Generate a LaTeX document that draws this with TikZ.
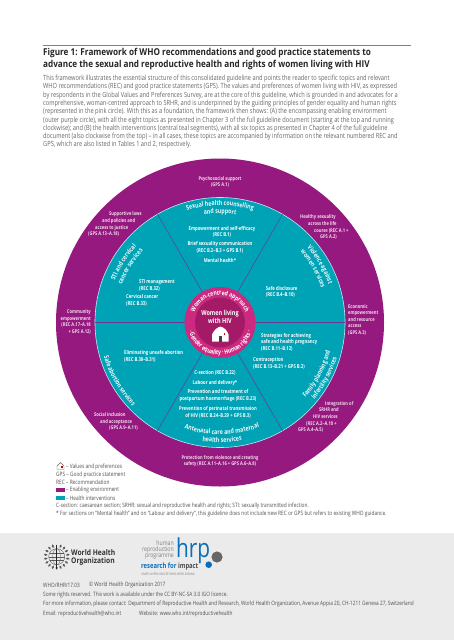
\documentclass[tikz,border=0pt]{standalone}
\usepackage{fontspec}
\usepackage{tikz}
\usetikzlibrary{positioning, decorations.text}
\setmainfont{Open Sans}
\newfontfamily\narrowfont[FakeStretch=0.86]{Open Sans}
\newfontfamily\labelfont[FakeStretch=0.80]{Open Sans}
\definecolor{ringpurple}{HTML}{96197F}
\definecolor{segteal}{HTML}{00A2B6}
\definecolor{corepink}{HTML}{CC2A80}
\definecolor{coredark}{HTML}{A51A67}
\definecolor{spoke}{HTML}{6A3A96}
\definecolor{footgrey}{HTML}{EBEBEB}
\definecolor{bodygrey}{HTML}{666666}
\definecolor{hrpblue}{HTML}{0A6EB8}
\newcommand{\curvefont}{\labelfont\bfseries\fontsize{6.6}{7}\selectfont\color{white!92!segteal}}
\newcommand{\corefont}{\labelfont\bfseries\fontsize{6.3}{7}\selectfont\color{white}}
\newcommand{\arctext}[4]{\path[decorate, decoration={text along path, text={|\curvefont|#4}, text align=center}]
  ([shift={(#2:#1)}]ctr) arc[start angle=#2, end angle=#3, radius=#1];}

\begin{document}
\begin{tikzpicture}[
  x=1pt, y=1pt,
  plab/.style={font=\labelfont\bfseries\fontsize{5.1}{6.6}\selectfont, text=white!85!ringpurple, inner sep=0pt, align=center},
  tlab/.style={font=\labelfont\bfseries\fontsize{5.3}{6.6}\selectfont, text=white, inner sep=0pt, align=center},
  lgd/.style={font=\labelfont\fontsize{6}{6}\selectfont, text=bodygrey!80!black, inner sep=0pt, anchor=west},
  foot/.style={font=\labelfont\fontsize{5.95}{6}\selectfont, text=bodygrey!80!black, inner sep=0pt, anchor=west},
]
  \useasboundingbox (0,0) rectangle (454,-640);
  \fill[white] (0,0) rectangle (454,-640);
  \coordinate (ctr) at (220,-322.5);

  % Heading
  \draw[gray, line width=1pt] (43,-45.5) -- (411,-45.5);
  \node[font=\narrowfont\bfseries\fontsize{9.5}{11.9}\selectfont, text=black!85, inner sep=0pt, anchor=north west, align=left] (title) at (43,-48.5)
    {Figure 1: Framework of WHO recommendations and good practice statements to\\
     advance the sexual and reproductive health and rights of women living with HIV};
  \node[font=\labelfont\fontsize{7.1}{8.28}\selectfont, text=bodygrey, inner sep=0pt, anchor=north west, align=left] (intro) at (43,-75)
    {This framework illustrates the essential structure of this consolidated guideline and points the reader to specific topics and relevant\\
     WHO recommendations (REC) and good practice statements (GPS). The values and preferences of women living with HIV, as expressed\\
     by respondents in the Global Values and Preferences Survey, are at the core of this guideline, which is grounded in and advocates for a\\
     comprehensive, woman-centred approach to SRHR, and is underpinned by the guiding principles of gender equality and human rights\\
     (represented in the pink circle). With this as a foundation, the framework then shows: (A) the encompassing enabling environment\\
     (outer purple circle), with all the eight topics as presented in Chapter 3 of the full guideline document (starting at the top and running\\
     clockwise); and (B) the health interventions (central teal segments), with all six topics as presented in Chapter 4 of the full guideline\\
     document (also clockwise from the top) – in all cases, these topics are accompanied by information on the relevant numbered REC and\\
     GPS, which are also listed in Tables 1 and 2, respectively.};

  % Rings and segments
  \fill[ringpurple] (ctr) circle[radius=164];
  \draw[segteal, fill=segteal, line width=0.1pt] (ctr) circle[radius=125];
  \draw[white!75!segteal, line width=0.6pt] (ctr) circle[radius=125];
  \foreach \a in {0,60,...,300} { \draw[spoke, line width=0.5pt] (ctr) -- ++(\a:125); }
  \fill[corepink] (ctr) circle[radius=35.5];
  \fill[coredark] (ctr) circle[radius=25];

  % Curved topic titles
  \arctext{117}{125}{55}{Sexual health counselling}
  \arctext{109}{125}{55}{and support}
  \arctext{115}{60}{0}{Violence against}
  \arctext{107}{60}{0}{women services}
  \arctext{114}{-60}{4}{Family planning and}
  \arctext{122}{-60}{4}{infertility services}
  \arctext{112}{236}{306}{Antenatal care and maternal}
  \arctext{120}{236}{306}{health services}
  \arctext{121}{180}{240}{Safe abortion services}
  \arctext{113}{178}{118}{STI and cervical}
  \arctext{105}{178}{118}{cancer services}

  % Core
  \path[decorate, decoration={text along path, text={|\corefont|Woman-centred approach}, text align=center}]
    ([shift={(175:27.5)}]ctr) arc[start angle=175, end angle=5, radius=27.5];
  \path[decorate, decoration={text along path, text={|\corefont|· Gender equality · Human rights ·}, text align=center}]
    ([shift={(180:32.5)}]ctr) arc[start angle=180, end angle=360, radius=32.5];
  \node[font=\labelfont\bfseries\fontsize{6.9}{8}\selectfont, text=white, inner sep=0pt, align=center] (women) at (220,-317) {Women living\\with HIV};
  % House in the core
  \fill[white] (212,-341.5) -- (212,-334.5) .. controls (214,-330) and (217,-327.5) .. (220.5,-326.5) .. controls (224,-327.5) and (227,-330) .. (228.5,-334.5) -- (228.5,-341.5) -- cycle;
  \fill[black!75] (219,-341.5) rectangle (222,-335.5);
  \fill[red!80!black] (223.5,-335) rectangle (225,-333);

  % Enabling environment
  \node[plab] (psysup) at (220,-181.8) {Psychosocial support\\(GPS A.1)};
  \node[plab, anchor=west, align=left] (healthy) at (300,-227.2) {Healthy sexuality\\\hspace*{8pt}across the life\\\hspace*{14pt}course (REC A.1 +\\\hspace*{20pt}GPS A.2)};
  \node[plab, anchor=west, align=left] (econ) at (348,-319.7) {Economic\\empowerment\\and resource\\access\\(GPS A.3)};
  \node[plab, anchor=west, align=left] (integ) at (298,-417)
    {\hspace*{27pt}Integration of\\\hspace*{21pt}SRHR and\\\hspace*{15pt}HIV services\\\hspace*{8pt}(REC A.2–A.10 +\\GPS A.4–A.5)};
  \node[plab] (protect) at (220,-461) {Protection from violence and creating\\safety (REC A.11–A.16 + GPS A.6–A.8)};
  \node[plab, anchor=west, align=left] (social) at (94,-421.7) {Social inclusion\\\hspace*{6pt}and acceptance\\\hspace*{15pt}(GPS A.9–A.11)};
  \node[plab, anchor=east, align=right] (comm) at (91,-322) {Community\\empowerment\\(REC A.17–A.18\\+ GPS A.12)};
  \node[plab, anchor=west, align=left] (suplaw) at (88,-224.3) {\hspace*{21pt}Supportive laws\\\hspace*{14pt}and policies and\\\hspace*{7pt}access to justice\\(GPS A.13–A.18)};

  % Health interventions
  \node[tlab] (empower) at (222,-231.8) {Empowerment and self-efficacy\\(REC B.1)};
  \node[tlab] (brief) at (220,-247.6) {Brief sexuality communication\\(REC B.2–B.3 + GPS B.1)};
  \node[tlab] (mental) at (220,-260.7) {Mental health*};
  \node[tlab, anchor=west, align=left] (stimg) at (139,-285.2) {STI management\\(REC B.32)};
  \node[tlab, anchor=west, align=left] (cervix) at (126,-300.5) {Cervical cancer\\(REC B.33)};
  \node[tlab, anchor=west, align=left] (disclose) at (265.7,-291.7) {Safe disclosure\\(REC B.4–B.10)};
  \node[tlab, anchor=west, align=left] (strat) at (261,-342) {Strategies for achieving\\safe and health pregnancy\\(REC B.11–B.12)};
  \node[tlab, anchor=west, align=left] (contra) at (253,-363.3) {Contraception\\(REC B.13–B.21 + GPS B.2)};
  \node[tlab, anchor=west, align=left] (unsafe) at (124,-356.3) {Eliminating unsafe abortion\\(REC B.30–B.31)};
  \node[tlab] (csec) at (215,-373.3) {C-section (REC B.22)};
  \node[tlab] (labour) at (215,-383.3) {Labour and delivery*};
  \node[tlab] (pph) at (218,-395.6) {Prevention and treatment of\\postpartum haemorrhage (REC B.23)};
  \node[tlab] (perinat) at (218,-412.5) {Prevention of perinatal transmission\\of HIV (REC B.24–B.29 + GPS B.3)};

  % Legend
  \draw[bodygrey, line width=0.4pt, fill=white] (57,-469.5) -- (57,-466) -- (60.5,-462.5) -- (64,-466) -- (64,-469.5) -- cycle;
  \fill[red!80!black] (61,-467.5) rectangle (62.5,-465.5);
  \node[lgd] (lvalues) at (66,-466.7) {– Values and preferences};
  \node[lgd] (lgps) at (56,-474.6) {GPS – Good practice statement};
  \node[lgd] (lrec) at (56,-482.4) {REC – Recommendation};
  \fill[ringpurple] (56,-488.3) rectangle (65,-492.3);
  \node[lgd] (lenv) at (66,-490.3) {– Enabling environment};
  \fill[segteal] (56,-496.3) rectangle (65,-500.3);
  \node[lgd] (lhealth) at (66,-498.3) {– Health interventions};
  \node[lgd] (labbr) at (56,-506) {C-section: caesarean section; SRHR: sexual and reproductive health and rights; STI: sexually transmitted infection.};
  \node[lgd] (lnote) at (56,-514) {* For sections on “Mental health” and on “Labour and delivery”, this guideline does not include new REC or GPS but refers to existing WHO guidance.};

  % Footer
  \fill[footgrey] (0,-533) rectangle (454,-640);

  % WHO emblem
  \foreach \a in {20,40,...,340} { \fill[black!65, rotate around={\a:(56.7,-556.7)}] (56.7,-545.5) ellipse[x radius=1.1, y radius=1.9]; }
  \draw[black!65, line width=0.4pt] (56.7,-556.7) circle[radius=8];
  \draw[black!65, line width=0.3pt] (56.7,-556.7) ellipse[x radius=4, y radius=8];
  \draw[black!65, line width=0.3pt] (48.7,-556.7) -- (64.7,-556.7) (49.7,-553) -- (63.7,-553) (49.7,-560.4) -- (63.7,-560.4);
  \draw[black!85, line width=0.8pt] (56.7,-544.5) -- (56.7,-568.5);
  \node[font=\narrowfont\bfseries\fontsize{7.8}{8.6}\selectfont, text=black!80, inner sep=0pt, anchor=west, align=left] (who) at (71,-557.3) {World Health\\Organization};

  % HRP mark
  \node[font=\labelfont\fontsize{6.5}{5.8}\selectfont, text=gray, inner sep=0pt, anchor=east, align=right] (hrpname) at (174,-549.8) {human\\reproduction\\programme};
  \node[font=\labelfont\fontsize{26}{26}\selectfont, text=hrpblue, inner sep=0pt, anchor=base west] (hrp) at (176,-557) {hrp};
  \fill[black!60] (217,-557) circle[radius=5.6];
  \fill[hrpblue] (208.7,-564.7) circle[radius=3.3];
  \node[font=\labelfont\bfseries\fontsize{7.3}{7}\selectfont, inner sep=0pt, anchor=west] (impact) at (141,-566.8) {\textcolor{hrpblue}{research for} \textcolor{black!70}{impact}};
  \node[font=\labelfont\fontsize{3.4}{3}\selectfont, text=gray, inner sep=0pt, anchor=west] (sponsors) at (141,-574.3) {UNDP-UNFPA-UNICEF-WHO-WORLD BANK};

  \node[foot] (docno) at (43,-585) {WHO/RHR/17.03};
  \node[foot] (copy) at (89,-585) {\textcopyright\ World Health Organization 2017};
  \node[foot] (rights) at (43,-594.7) {Some rights reserved. This work is available under the CC BY-NC-SA 3.0 IGO licence.};
  \node[foot] (contact) at (43,-604) {For more information, please contact: Department of Reproductive Health and Research, World Health Organization, Avenue Appia 20, CH-1211 Geneva 27, Switzerland};
  \node[foot] (email) at (43,-613.7) {Email: reproductivehealth@who.int};
  \node[foot] (web) at (139,-613.7) {Website: www.who.int/reproductivehealth};
\end{tikzpicture}
\end{document}
